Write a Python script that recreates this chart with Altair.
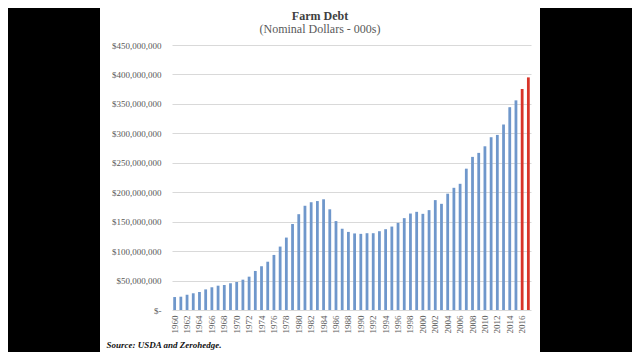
import altair as alt
import pandas as pd

years = list(range(1960, 2018))
debt_millions = [
    22.0, 22.6, 26.0, 28.4, 30.6, 35.0, 38.6, 41.3, 42.5, 45.4,
    47.6, 51.5, 56.6, 66.3, 74.3, 82.0, 93.5, 107.7, 123.0, 146.0,
    162.7, 177.0, 183.0, 185.0, 188.0, 171.0, 151.0, 138.0, 132.6, 130.0,
    129.3, 130.4, 130.4, 133.8, 137.2, 141.7, 148.0, 156.0, 163.8, 166.7,
    163.3, 169.6, 186.6, 180.3, 197.5, 207.5, 214.3, 240.0, 260.0, 266.8,
    278.0, 293.4, 297.3, 315.0, 344.4, 356.0, 375.3, 395.0,
]
highlight_years = [2016, 2017]
label_years = list(range(1960, 2017, 2))
y_ticks = [0, 50e6, 100e6, 150e6, 200e6, 250e6, 300e6, 350e6, 400e6, 450e6]
title_text = "Farm Debt"
subtitle_text = "(Nominal Dollars - 000s)"
source_text = "Source:  USDA and Zerohedge."

BLUE = "#6f97cb"
RED = "#d8352a"
FONT = "Liberation Serif"

df = pd.DataFrame({
    "year": years,
    "debt": [v * 1_000_000 for v in debt_millions],
    "hl": [y in highlight_years for y in years],
})

bars = alt.Chart(df).mark_bar().encode(
    x=alt.X(
        "year:O",
        scale=alt.Scale(paddingInner=0.55, paddingOuter=0.2),
        axis=alt.Axis(
            values=label_years, labelAngle=-90, labelFont=FONT, labelFontSize=9,
            labelColor="#595959", ticks=False, domain=False, labelPadding=5,
            title=source_text, titleFont=FONT, titleFontSize=9,
            titleFontWeight="bold", titleFontStyle="italic", titleColor="#111111",
            titleX=-66, titleY=37, titleAlign="left", titleBaseline="alphabetic",
        ),
    ),
    y=alt.Y(
        "debt:Q",
        scale=alt.Scale(domain=[0, 450e6], nice=False),
        axis=alt.Axis(
            values=y_ticks,
            labelExpr="datum.value == 0 ? '$-\u00a0\u00a0' : '$' + format(datum.value, ',')",
            grid=True, gridColor="#d9d9d9", ticks=False, domain=False,
            labelPadding=11, labelFont=FONT, labelFontSize=9, labelColor="#595959",
            title=None,
        ),
    ),
    color=alt.condition(alt.datum.hl, alt.value(RED), alt.value(BLUE)),
)

side = pd.DataFrame({"k": [0]})
left = alt.Chart(side).mark_rect(color="black").encode(
    x=alt.value(-172), x2=alt.value(-72), y=alt.value(-50), y2=alt.value(330)
)
right = alt.Chart(side).mark_rect(color="black").encode(
    x=alt.value(368), x2=alt.value(470), y=alt.value(-50), y2=alt.value(330)
)

title_mark = alt.Chart(pd.DataFrame({"t": [title_text]})).mark_text(
    font=FONT, fontSize=12, fontWeight="bold", color="#404040", baseline="middle", align="center"
).encode(text="t:N", x=alt.value(148), y=alt.value(-29))
subtitle_mark = alt.Chart(pd.DataFrame({"t": [subtitle_text]})).mark_text(
    font=FONT, fontSize=12, color="#595959", baseline="middle", align="center"
).encode(text="t:N", x=alt.value(148), y=alt.value(-16))

chart = alt.layer(left, right, bars, title_mark, subtitle_mark).properties(
    width=359,
    height=265,
    background="white",
    padding={"left": 164, "top": 37, "right": 101, "bottom": 42},
    autosize=alt.AutoSizeParams(type="none"),
).configure_view(stroke=None)

chart.save("out.html", embed_options={"renderer": "svg", "actions": False})
